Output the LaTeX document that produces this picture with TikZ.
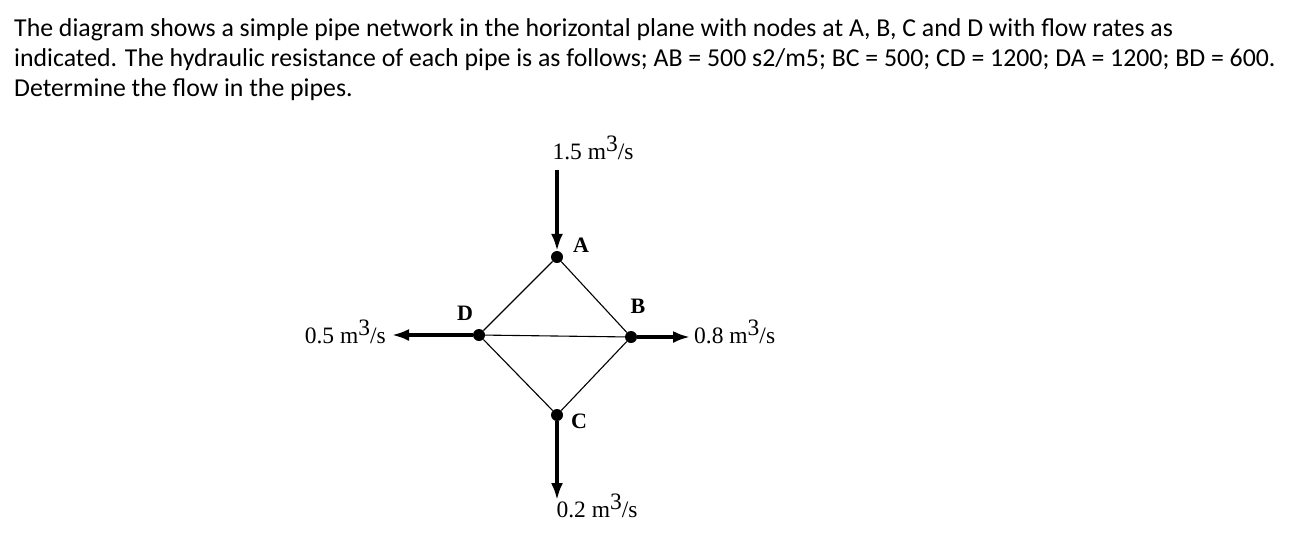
\documentclass[tikz,border=0pt]{standalone}
\usepackage{fontspec}
\setmainfont{Liberation Serif}
\newfontfamily\calib{Carlito}
\newcommand{\cub}{m\raisebox{0.35em}{3}}
\begin{document}
\begin{tikzpicture}[x=1pt,y=-1pt,
  txt/.style={anchor=base west,inner sep=0pt,font=\calib\fontsize{25.8}{30}\selectfont},
  lbl/.style={inner sep=0pt,font=\fontsize{23.5}{26}\selectfont},
  nl/.style={inner sep=0pt,font=\bfseries\fontsize{22}{24}\selectfont},
  dot/.style={circle,fill,inner sep=0pt,minimum size=12pt},
  pipe/.style={line width=1.1pt},
  flow/.style={line width=3.2pt,-{Latex[length=17pt,width=12pt]}}]
\usetikzlibrary{arrows.meta}
\useasboundingbox (0,0) rectangle (1290,542);
\node[txt] (t1) at (14,36) {The diagram shows a simple pipe network in the horizontal plane with nodes at A, B, C and D with flow rates as};
\node[txt] (t2) at (14,66) {indicated. The hydraulic resistance of each pipe is as follows; AB = 500 s2/m5; BC = 500; CD = 1200; DA = 1200; BD = 600.};
\node[txt] (t3) at (14,96) {Determine the flow in the pipes.};
\node[dot] (A) at (557,257) {};
\node[dot] (B) at (631,337) {};
\node[dot] (C) at (557,415) {};
\node[dot] (D) at (479,335) {};
\draw[pipe] (A) -- (B) -- (C) -- (D) -- (A);
\draw[pipe] (D) -- (B);
\coordinate (top) at (557,170);
\coordinate (left) at (392,335);
\coordinate (right) at (690,337);
\coordinate (bot) at (557,500);
\draw[flow] (top) -- (A.north);
\draw[flow] (D) -- (left);
\draw[flow] (B) -- (right);
\draw[flow] (C) -- (bot);
\node[lbl] (q1) at (593,148) {1.5 \cub/s};
\node[lbl,anchor=east] (q2) at (386,332) {0.5 \cub/s};
\node[lbl,anchor=west] (q3) at (694,332) {0.8 \cub/s};
\node[lbl] (q4) at (597,506) {0.2 \cub/s};
\node[nl] (la) at (581,245) {A};
\node[nl] (lb) at (638,306) {B};
\node[nl] (lc) at (579,421) {C};
\node[nl] (ld) at (465,313) {D};
\end{tikzpicture}
\end{document}
